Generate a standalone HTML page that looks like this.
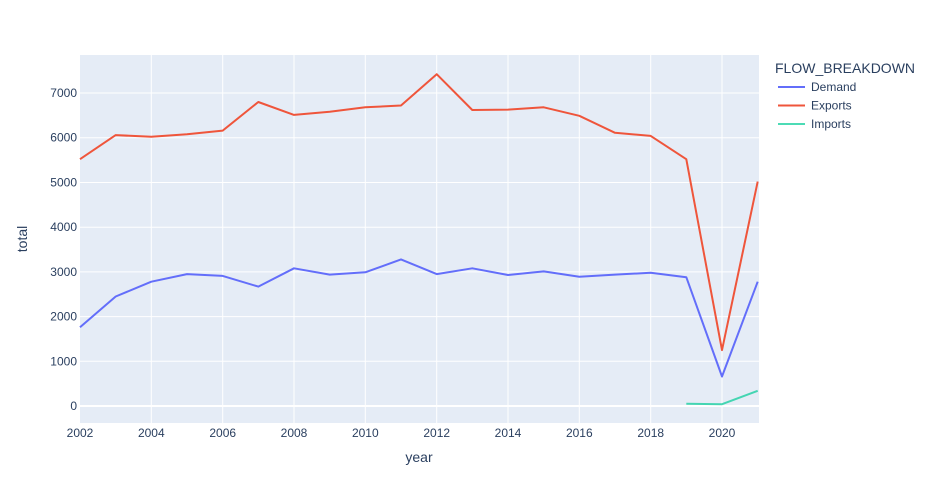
<!DOCTYPE html>
<html><head><meta charset="utf-8"><style>
body{margin:0;background:#fff;}
svg text{font-family:"Liberation Sans",sans-serif;fill:#2a3f5f;}
</style></head><body>
<svg width="936" height="480" xmlns="http://www.w3.org/2000/svg">
<rect x="80" y="55" width="679" height="368" fill="#e5ecf6"/>
<g stroke="#fff" stroke-width="1">
<line x1="80" x2="759" y1="361.3" y2="361.3"/><line x1="80" x2="759" y1="316.6" y2="316.6"/>
<line x1="80" x2="759" y1="271.9" y2="271.9"/><line x1="80" x2="759" y1="227.2" y2="227.2"/>
<line x1="80" x2="759" y1="182.5" y2="182.5"/><line x1="80" x2="759" y1="137.7" y2="137.7"/>
<line x1="80" x2="759" y1="93" y2="93"/>
<line x1="151.3" x2="151.3" y1="55" y2="423"/><line x1="222.7" x2="222.7" y1="55" y2="423"/>
<line x1="294" x2="294" y1="55" y2="423"/><line x1="365.3" x2="365.3" y1="55" y2="423"/>
<line x1="436.7" x2="436.7" y1="55" y2="423"/><line x1="508" x2="508" y1="55" y2="423"/>
<line x1="579.3" x2="579.3" y1="55" y2="423"/><line x1="650.7" x2="650.7" y1="55" y2="423"/>
<line x1="722" x2="722" y1="55" y2="423"/>
</g>
<line x1="80" x2="759" y1="406" y2="406" stroke="#fff" stroke-width="2"/>
<g fill="none" stroke-width="2" stroke-linejoin="round">
<polyline stroke="#EF553B" points="80,159.2 115.7,135.1 151.3,136.8 187,134.2 222.7,130.6 258.3,102 294,114.9 329.7,111.8 365.3,107.3 401,105.5 436.7,74.2 472.3,110 508,109.6 543.7,107.3 579.3,115.8 615,132.8 650.7,135.9 686.3,159.2 722,350.1 757.7,181.6"/>
<polyline stroke="#636efa" points="80,327.3 115.7,296.5 151.3,281.7 187,274.1 222.7,275.9 258.3,286.6 294,268.3 329.7,274.6 365.3,272.3 401,259.4 436.7,274.1 472.3,268.3 508,275 543.7,271.4 579.3,276.8 615,274.6 650.7,272.8 686.3,277.2 722,376.5 757.7,281.7"/>
<polyline stroke="#00cc96" stroke-opacity="0.7" points="686.3,403.8 722,404.2 757.7,390.8"/>
</g>
<g font-size="12" text-anchor="end">
<text x="77" y="410">0</text><text x="77" y="365.3">1000</text><text x="77" y="320.6">2000</text>
<text x="77" y="275.9">3000</text><text x="77" y="231.2">4000</text><text x="77" y="186.5">5000</text>
<text x="77" y="141.7">6000</text><text x="77" y="97">7000</text>
</g>
<g font-size="12" text-anchor="middle">
<text x="80" y="437">2002</text><text x="151.3" y="437">2004</text><text x="222.7" y="437">2006</text>
<text x="294" y="437">2008</text><text x="365.3" y="437">2010</text><text x="436.7" y="437">2012</text>
<text x="508" y="437">2014</text><text x="579.3" y="437">2016</text><text x="650.7" y="437">2018</text>
<text x="722" y="437">2020</text>
</g>
<text x="419" y="462" font-size="14" text-anchor="middle">year</text>
<text transform="translate(27,239) rotate(-90)" font-size="14" text-anchor="middle">total</text>
<text x="775" y="73" font-size="14">FLOW_BREAKDOWN</text>
<g stroke-width="2">
<line x1="778" x2="805" y1="87" y2="87" stroke="#636efa"/>
<line x1="778" x2="805" y1="105.5" y2="105.5" stroke="#EF553B"/>
<line x1="778" x2="805" y1="124" y2="124" stroke="#00cc96" stroke-opacity="0.7"/>
</g>
<g font-size="12">
<text x="811" y="91">Demand</text><text x="811" y="109.5">Exports</text><text x="811" y="128">Imports</text>
</g>
</svg>
</body></html>
